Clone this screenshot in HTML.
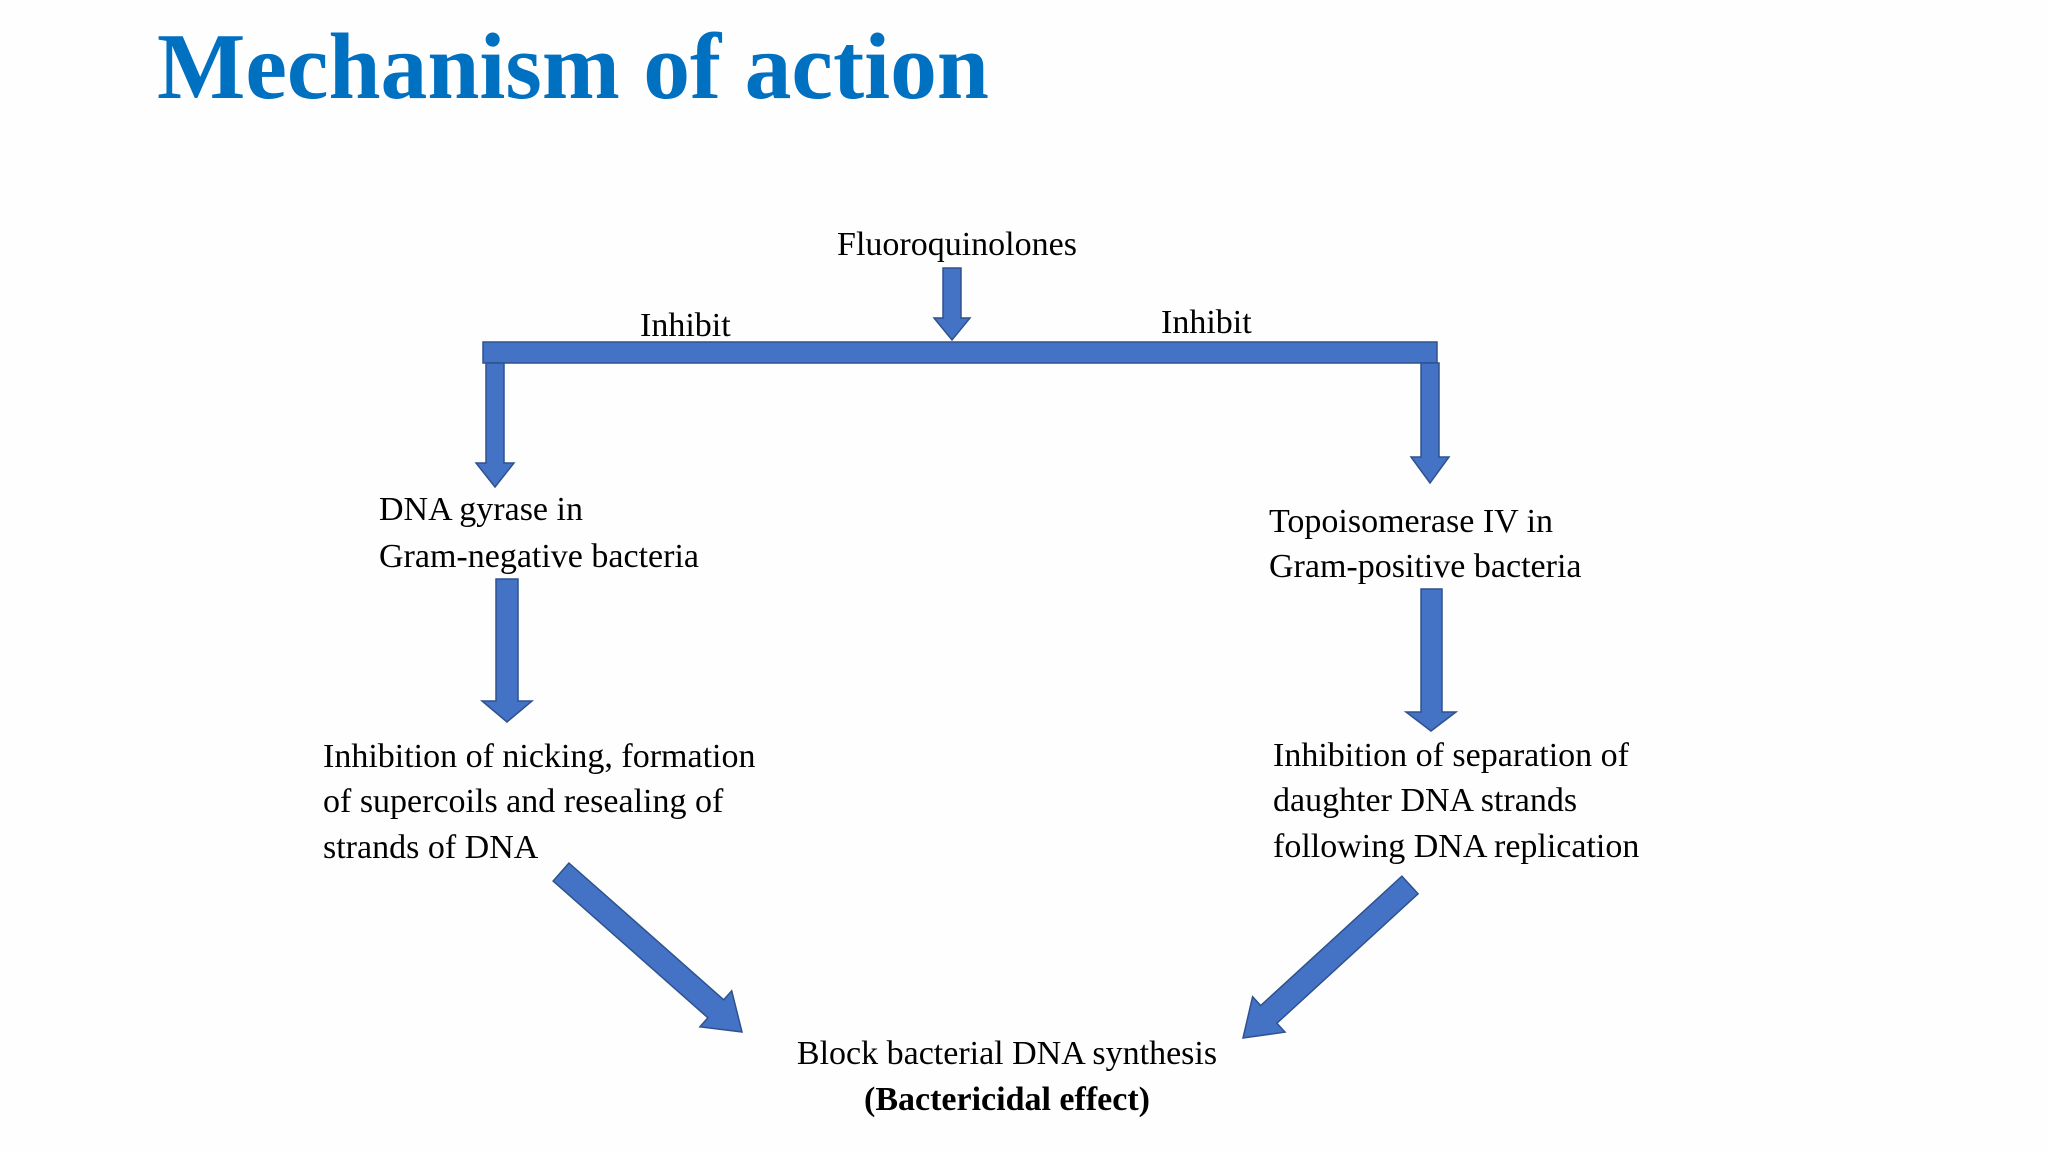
<!DOCTYPE html>
<html><head><meta charset="utf-8"><style>
html,body{margin:0;padding:0;background:#fff;}
svg{display:block;}
text{font-family:"Liberation Serif",serif;fill:#000;}
</style></head><body>
<svg width="2048" height="1152" viewBox="0 0 2048 1152" xmlns="http://www.w3.org/2000/svg">
<rect width="2048" height="1152" fill="#fefefe"/>
<text x="157" y="98" font-size="94" font-weight="bold" style="fill:#0070C0" textLength="832" lengthAdjust="spacingAndGlyphs">Mechanism of action</text>

<g fill="#4472C4" stroke="#2F528F" stroke-width="1.5">
<!-- top small arrow -->
<polygon points="943,268 961,268 961,318 970,318 952,340 934,318 943,318"/>
<!-- bar -->
<rect x="483" y="342" width="954" height="21"/>
<!-- left down -->
<polygon points="486,363 504,363 504,463 514,463 495,487 476,463 486,463"/>
<!-- right down -->
<polygon points="1421,363 1439,363 1439,457 1449,457 1430,483 1411,457 1421,457"/>
<!-- left arrow 2 -->
<polygon points="496,579 518,579 518,701 532,701 507,722 482,701 496,701"/>
<!-- right arrow 2 -->
<polygon points="1421,589 1442,589 1442,712 1456,712 1431,731 1406,712 1421,712"/>
<!-- diagonals -->
<polygon points="568.9,863 723.7,999.8 731.7,990.8 742,1032 699.9,1026.8 707.9,1017.8 553.1,881"/>
<polygon points="1418.1,893.8 1276.9,1023.2 1285,1032.1 1243,1038 1252.6,996.7 1260.7,1005.6 1401.9,876.2"/>
</g>

<g font-size="34">
<text x="957" y="255" text-anchor="middle">Fluoroquinolones</text>
<text x="640" y="336">Inhibit</text>
<text x="1161" y="333">Inhibit</text>
<text x="379" y="520">DNA gyrase in</text>
<text x="379" y="567">Gram-negative bacteria</text>
<text x="1269" y="532">Topoisomerase IV in</text>
<text x="1269" y="577">Gram-positive bacteria</text>
<text x="323" y="767">Inhibition of nicking, formation</text>
<text x="323" y="812">of supercoils and resealing of</text>
<text x="323" y="858">strands of DNA</text>
<text x="1273" y="766">Inhibition of separation of</text>
<text x="1273" y="811">daughter DNA strands</text>
<text x="1273" y="857">following DNA replication</text>
<text x="1007" y="1064" text-anchor="middle">Block bacterial DNA synthesis</text>
<text x="1007" y="1110" text-anchor="middle" font-weight="bold">(Bactericidal effect)</text>
</g>
</svg>
</body></html>
